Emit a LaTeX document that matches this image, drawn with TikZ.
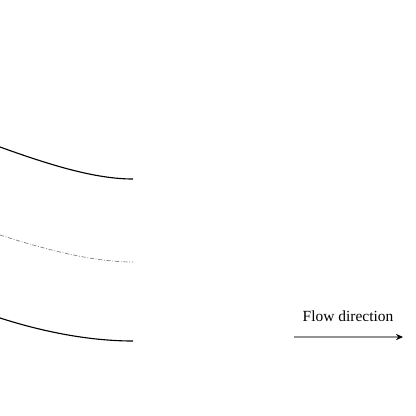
\documentclass[tikz,border=0pt]{standalone}
\usepackage{fontspec}
\setmainfont{Liberation Serif}
\usetikzlibrary{arrows.meta}
\newcommand{\wallw}{0.8pt}
\newcommand{\flowx}{294}
\newcommand{\flowy}{337}
\tikzset{
  wall/.style={line width=\wallw, black},
  midline/.style={line width=0.5pt, gray, dash pattern=on 3pt off 1.2pt on 0.6pt off 1.2pt},
  flowarrow/.style={line width=1.4pt, gray!85, -{Stealth[length=5pt,width=4.5pt,black]}}
}
\begin{document}
\begin{tikzpicture}[x=0.025cm,y=-0.025cm,font=\fontsize{11}{13}\selectfont]
  \useasboundingbox (0,0) rectangle (416,416);
  % walls and centre line
  \draw[wall] (0,147) .. controls (50,165) and (95,179) .. (133,179);
  \draw[midline] (0,235) .. controls (50,251) and (95,262) .. (133,262);
  \draw[wall] (0,318) .. controls (50,334) and (95,341) .. (133,341);

  \coordinate (flowa) at (\flowx,\flowy);
  \coordinate (flowb) at (403,\flowy);
  \node (flowlbl) at (348,316) {Flow direction};
  \draw[flowarrow] (flowa) -- (flowb);
\end{tikzpicture}
\end{document}
